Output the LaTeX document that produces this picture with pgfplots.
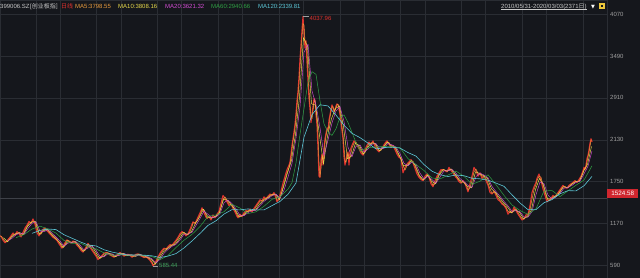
\documentclass[border=0pt]{standalone}
\usepackage{fontspec}
\setmainfont{Liberation Sans}
\newfontfamily\cjk{Noto Sans CJK SC}
\newfontfamily\sym{DejaVu Sans}
\usepackage{pgfplots}
\usepackage{pgfplotstable}
\pgfplotsset{compat=1.18}

\definecolor{bg}{HTML}{15171C}
\definecolor{gridc}{HTML}{2A2D33}
\definecolor{refline}{HTML}{3E4148}
\definecolor{axtext}{HTML}{A0A0A0}
\definecolor{kred}{HTML}{E0322E}
\definecolor{ma5c}{HTML}{E89A3C}
\definecolor{ma10c}{HTML}{E6D84A}
\definecolor{ma20c}{HTML}{D24CD2}
\definecolor{ma60c}{HTML}{2FA044}
\definecolor{ma120c}{HTML}{5CC6D6}
\definecolor{titletext}{HTML}{C8C8C8}
\definecolor{lowgreen}{HTML}{3FA05A}
\definecolor{boxred}{HTML}{D0262E}

\newcommand\tf{\fontsize{6bp}{7bp}\selectfont}

% daily close and MA5, x = trading day since 2010-05-31
\pgfplotstableread{
d c m5
0 1000 1000
6 985 993
12 940 963
20 905 923
28 930 918
36 965 948
44 1000 983
52 1040 1020
60 1010 1025
68 1060 1035
76 1030 1045
84 985 1008
92 1050 1018
100 1110 1080
108 1150 1130
116 1200 1175
124 1175 1188
132 1235 1205
140 1160 1198
148 1045 1103
156 1000 1023
164 1050 1025
172 1090 1070
180 1110 1100
188 1070 1090
196 1040 1055
204 1010 1025
212 980 995
220 960 970
228 935 948
236 890 913
244 850 870
248 830 840
256 880 855
264 930 905
268 945 938
276 920 933
284 900 910
292 930 915
300 910 920
308 870 890
316 840 855
324 800 820
332 775 788
340 820 798
348 870 845
352 895 883
360 840 868
368 800 820
376 760 780
384 720 740
392 670 695
400 700 685
408 730 715
416 760 745
424 770 765
432 760 765
440 735 748
448 720 728
456 705 713
464 725 715
472 750 738
480 770 760
488 745 758
496 720 733
504 735 728
512 745 740
520 730 738
528 705 718
536 725 715
544 745 735
552 750 748
560 730 740
568 715 723
576 700 708
584 710 705
592 690 700
600 660 675
608 620 640
612 585.44 605
620 620 605
628 680 650
632 710 695
640 760 735
648 800 780
656 830 815
664 815 823
672 850 833
680 880 865
688 870 875
696 905 888
704 940 923
712 980 960
720 1030 1005
728 1060 1045
736 1040 1050
744 1000 1020
752 1030 1015
760 1090 1060
768 1160 1125
772 1195 1178
780 1170 1183
788 1230 1200
796 1290 1260
804 1350 1320
808 1390 1370
816 1320 1355
824 1260 1290
828 1240 1250
836 1270 1255
844 1220 1245
852 1290 1255
860 1250 1270
868 1300 1275
876 1340 1320
884 1450 1395
892 1560 1505
900 1520 1540
908 1470 1495
916 1420 1445
924 1440 1430
932 1380 1410
940 1330 1355
948 1270 1300
952 1250 1260
960 1300 1275
968 1270 1285
976 1320 1295
984 1350 1335
992 1340 1345
1000 1370 1355
1008 1330 1350
1016 1380 1355
1024 1420 1400
1032 1460 1440
1040 1500 1480
1048 1480 1490
1056 1540 1510
1064 1510 1525
1072 1550 1530
1080 1580 1565
1088 1560 1570
1096 1600 1580
1104 1520 1560
1108 1470 1495
1116 1520 1495
1124 1620 1570
1132 1730 1675
1140 1800 1765
1148 1860 1830
1156 1900 1880
1160 1930 1915
1164 2000 1965
1168 2080 2040
1172 2150 2115
1176 2280 2215
1180 2420 2350
1184 2620 2520
1188 2860 2740
1192 3000 2930
1196 3200 3100
1200 3450 3325
1204 3650 3550
1208 3850 3750
1212 4037.96 3940
1216 3800 3915
1220 3600 3700
1224 3700 3650
1228 3400 3550
1232 3150 3275
1236 2900 3025
1240 2700 2800
1244 2450 2575
1248 2600 2525
1252 2750 2675
1256 2900 2825
1260 2850 2875
1264 2600 2725
1268 2400 2500
1272 2050 2225
1276 1800 1925
1280 1790 1795
1284 1950 1870
1288 2000 1975
1292 1900 1950
1296 2050 1975
1300 2150 2100
1304 2250 2200
1308 2350 2300
1312 2300 2325
1316 2500 2400
1320 2600 2550
1324 2700 2650
1328 2780 2740
1332 2720 2750
1336 2650 2685
1340 2700 2675
1344 2760 2730
1348 2800 2780
1352 2780 2790
1356 2700 2740
1360 2600 2650
1364 2450 2525
1368 2300 2375
1372 2150 2225
1376 1980 2065
1380 1900 1940
1384 1950 1925
1388 2000 1975
1392 2020 2010
1396 1900 1960
1400 2030 1965
1408 2080 2055
1416 2120 2100
1424 2100 2110
1428 2080 2090
1436 2050 2065
1444 2010 2030
1452 1990 2000
1460 2040 2015
1468 2080 2060
1476 2110 2095
1484 2090 2100
1492 2120 2105
1500 2070 2095
1508 2040 2055
1516 2020 2030
1524 2050 2035
1532 2070 2060
1540 2100 2085
1548 2120 2110
1556 2090 2105
1564 2060 2075
1572 2080 2070
1580 2040 2060
1588 2000 2020
1596 1970 1985
1604 1960 1965
1612 1830 1895
1620 1880 1855
1628 1910 1895
1636 1930 1920
1644 1950 1940
1652 1920 1935
1660 1870 1895
1668 1820 1845
1676 1790 1805
1684 1770 1780
1692 1760 1765
1700 1800 1780
1708 1820 1810
1716 1790 1805
1724 1720 1755
1732 1680 1700
1740 1760 1720
1748 1800 1780
1756 1830 1815
1764 1860 1845
1772 1860 1860
1780 1850 1855
1788 1840 1845
1796 1880 1860
1804 1850 1865
1812 1830 1840
1820 1800 1815
1828 1780 1790
1836 1750 1765
1844 1730 1740
1852 1760 1745
1860 1720 1740
1868 1650 1685
1872 1610 1630
1880 1720 1665
1888 1800 1760
1896 1880 1840
1904 1850 1865
1912 1800 1825
1920 1830 1815
1928 1780 1805
1936 1800 1790
1944 1760 1780
1952 1700 1730
1960 1600 1650
1968 1580 1590
1976 1620 1600
1984 1560 1590
1992 1500 1530
2000 1480 1490
2008 1440 1460
2016 1420 1430
2024 1380 1400
2032 1300 1340
2040 1340 1320
2048 1320 1330
2056 1400 1360
2064 1350 1375
2072 1300 1325
2080 1260 1280
2088 1220 1240
2096 1240 1230
2104 1290 1265
2112 1300 1295
2120 1420 1360
2128 1600 1510
2136 1680 1640
2144 1740 1710
2148 1780 1760
2156 1820 1800
2164 1760 1790
2172 1650 1705
2180 1560 1605
2188 1470 1515
2196 1500 1485
2204 1520 1510
2212 1560 1540
2220 1540 1550
2228 1580 1560
2236 1620 1600
2244 1660 1640
2252 1700 1680
2260 1670 1685
2268 1660 1665
2276 1700 1680
2284 1720 1710
2292 1740 1730
2300 1760 1750
2308 1740 1750
2316 1770 1755
2324 1800 1785
2332 1850 1825
2336 1880 1865
2340 1860 1870
2344 1900 1880
2348 1960 1930
2352 1990 1975
2356 2040 2015
2360 2100 2070
2364 2150 2125
2368 2110 2130
}\closetab

% MA10
\pgfplotstableread{
d v
14 975
30 918
46 983
62 1025
78 1045
94 1018
110 1130
126 1188
142 1198
158 1023
174 1070
190 1090
206 1025
222 970
238 913
254 840
270 918
286 910
302 920
318 855
334 788
350 845
366 868
382 780
398 695
414 715
430 765
446 748
462 713
478 738
494 758
510 728
526 738
542 715
558 748
574 723
590 705
606 675
622 610
638 695
654 780
670 823
686 865
702 888
718 960
734 1045
750 1020
766 1060
782 1175
798 1260
814 1370
830 1273
846 1245
862 1270
878 1320
894 1505
910 1495
926 1430
942 1355
958 1260
974 1285
990 1335
1006 1355
1022 1355
1038 1440
1054 1490
1070 1525
1086 1565
1102 1580
1118 1503
1134 1675
1150 1830
1166 1943
1182 2233
1198 2920
1214 3745
1230 3625
1246 2800
1262 2775
1278 2213
1294 1910
1310 2200
1326 2525
1342 2713
1358 2760
1374 2375
1390 1958
1406 1983
1422 2100
1438 2077
1454 2000
1470 2060
1486 2100
1502 2095
1518 2030
1534 2060
1550 2110
1566 2075
1582 2060
1598 1985
1614 1895
1630 1895
1646 1940
1662 1895
1678 1805
1694 1765
1710 1810
1726 1755
1742 1720
1758 1815
1774 1860
1790 1845
1806 1865
1822 1815
1838 1765
1854 1745
1870 1685
1886 1665
1902 1840
1918 1825
1934 1805
1950 1780
1966 1650
1982 1600
1998 1530
2014 1460
2030 1400
2046 1320
2062 1360
2078 1325
2094 1240
2110 1265
2126 1360
2142 1640
2158 1780
2174 1705
2190 1515
2206 1510
2222 1550
2238 1600
2254 1680
2270 1665
2286 1710
2302 1750
2318 1755
2334 1843
2350 1907
2366 2070
}\matentab

% MA20
\pgfplotstableread{
d v
32 932
48 967
64 1015
80 1040
96 1025
112 1103
128 1174
144 1196
160 1067
176 1059
192 1085
208 1042
224 984
240 928
256 858
272 899
288 912
304 918
320 871
336 805
352 831
368 862
384 802
400 716
416 710
432 753
448 752
464 722
480 732
496 754
512 736
528 736
544 721
560 740
576 729
592 710
608 682
624 627
640 674
656 759
672 812
688 855
704 882
720 942
736 1024
752 1026
768 1050
784 1146
800 1239
816 1343
832 1298
848 1252
864 1264
880 1308
896 1459
912 1497
928 1447
944 1374
960 1284
976 1279
992 1322
1008 1350
1024 1355
1040 1419
1056 1478
1072 1517
1088 1555
1104 1576
1120 1522
1136 1632
1152 1792
1168 1915
1184 2161
1200 2748
1216 3539
1232 3655
1248 3006
1264 2781
1280 2354
1296 1986
1312 2128
1328 2444
1344 2666
1360 2748
1376 2471
1392 2063
1408 1977
1424 2071
1440 2083
1456 2019
1472 2045
1488 2090
1504 2096
1520 2047
1536 2053
1552 2098
1568 2084
1584 2064
1600 2004
1616 1917
1632 1895
1648 1929
1664 1906
1680 1828
1696 1775
1712 1799
1728 1769
1744 1729
1760 1791
1776 1849
1792 1849
1808 1860
1824 1827
1840 1778
1856 1750
1872 1700
1888 1670
1904 1796
1920 1829
1936 1810
1952 1786
1968 1683
1984 1613
2000 1548
2016 1478
2032 1415
2048 1340
2064 1350
2080 1334
2096 1261
2112 1259
2128 1336
2144 1570
2160 1745
2176 1724
2192 1562
2208 1512
2224 1541
2240 1588
2256 1660
2272 1669
2288 1699
2304 1741
2320 1754
2336 1821
2352 1891
2368 2030
}\matwentytab

% MA60
\pgfplotstableread{
d v
64 975
96 1018
128 1095
160 1135
192 1095
224 1039
256 937
288 895
320 901
352 852
384 820
416 765
448 731
480 741
512 734
544 735
576 731
608 713
640 671
672 727
704 839
736 940
768 1021
800 1129
832 1270
864 1290
896 1335
928 1438
960 1385
992 1309
1024 1333
1056 1410
1088 1505
1120 1543
1152 1647
1168 1738
1184 1920
1200 2232
1216 2710
1232 3131
1248 3273
1264 3236
1280 2853
1296 2425
1312 2275
1328 2212
1344 2337
1360 2550
1376 2593
1392 2452
1408 2269
1424 2104
1440 2030
1472 2059
1504 2064
1536 2071
1568 2069
1600 2058
1632 1959
1664 1906
1696 1851
1728 1784
1760 1775
1792 1810
1824 1846
1856 1798
1888 1715
1920 1754
1952 1813
1984 1709
2016 1560
2048 1428
2080 1351
2112 1298
2144 1376
2176 1621
2208 1628
2240 1544
2272 1624
2304 1701
2336 1765
2368 1894
}\masixtytab

% MA120
\pgfplotstableread{
d v
128 1035
160 1076
192 1095
224 1087
256 1016
288 967
320 919
352 874
384 861
416 808
448 776
480 753
512 733
544 738
576 733
608 724
640 701
672 720
704 755
736 833
768 930
800 1034
832 1145
864 1209
896 1302
928 1364
960 1360
992 1373
1024 1359
1056 1359
1088 1419
1120 1477
1152 1576
1184 1732
1216 2179
1248 2596
1280 2782
1312 2760
1344 2590
1376 2400
1408 2250
1440 2170
1472 2100
1504 2047
1536 2060
1568 2062
1600 2055
1632 2014
1664 1982
1696 1905
1728 1845
1760 1813
1792 1797
1824 1811
1856 1804
1888 1781
1920 1776
1952 1764
1984 1731
2016 1686
2048 1568
2080 1456
2112 1363
2144 1364
2176 1459
2208 1502
2240 1583
2272 1626
2304 1623
2336 1694
2368 1798
}\maonetwentytab

\begin{document}
\begin{tikzpicture}
\useasboundingbox (0,0) rectangle (640bp,278bp);
\fill[bg] (0,0) rectangle (640bp,278bp);
\begin{axis}[
  at={(0,0)}, anchor=south west,
  scale only axis, width=607bp, height=278bp,
  xmin=0, xmax=2428,
  ymin=417, ymax=4265,
  % price scale that is linear between the labelled levels
  y coord trafo/.code={\pgfmathparse{(#1<1750)*((#1-590)/580) + (#1>=1750)*(#1<2130)*(2+(#1-1750)/380) + (#1>=2130)*(#1<2910)*(3+(#1-2130)/780) + (#1>=2910)*(4+(#1-2910)/580)}},
  ytick={590,1170,1750,2130,2910,3490,4070},
  yticklabels={590,1170,1750,2130,2910,3490,4070},
  yticklabel pos=right,
  yticklabel style={anchor=west, inner sep=0pt, xshift=3bp, font=\tf, text=axtext},
  xtick={143,240,386,483,629,726,872,970,1116,1213,1359,1456,1602,1699,1845,1942,2088,2186,2332},
  xmajorticks=false,
  grid=major,
  major grid style={gridc, line width=0.5pt},
  tick style={draw=none},
  axis line style={gridc, line width=0.6pt},
  clip=true,
]
% reference price level
\addplot[refline, line width=0.5pt] coordinates {(0,1524.58) (2428,1524.58)};
\addplot[kred, line width=1.1pt, line join=round] table[x=d, y=c] {\closetab};
\addplot[ma5c, line width=0.5pt, line join=round] table[x=d, y=m5] {\closetab};
\addplot[ma10c, line width=0.5pt, line join=round] table[x=d, y=v] {\matentab};
\addplot[ma20c, line width=0.45pt, line join=round] table[x=d, y=v] {\matwentytab};
\addplot[ma60c, line width=0.5pt, line join=round] table[x=d, y=v] {\masixtytab};
\addplot[ma120c, line width=0.6pt, line join=round] table[x=d, y=v] {\maonetwentytab};
% high and low markers
\draw[axtext, line width=0.4pt] (axis cs:1212,4037.96) -- (axis cs:1234,4037.96);
\node[anchor=north west, inner sep=0pt, font=\tf, text=kred] at (axis cs:1238,4037.96) {4037.96};
\draw[axtext, line width=0.4pt] (axis cs:612,585.44) -- (axis cs:632,585.44);
\node[anchor=west, inner sep=0pt, font=\tf, text=lowgreen] at (axis cs:636,585.44) {585.44};
\coordinate (lastp) at (axis cs:2428,1524.58);
\end{axis}
% price tag on the right scale
\node[anchor=south west, fill=boxred, text=white, inner sep=0pt, minimum width=31bp, minimum height=9bp, font=\fontsize{6.3bp}{7bp}\selectfont] at (lastp) {1524.58};
% header line
\node[anchor=base west, inner sep=0pt, font=\tf, text=titletext] at (0bp,269.7bp) {399006.SZ};
\node[anchor=base west, inner sep=0pt, font=\tf, text=titletext] at (30bp,269.7bp) {[\cjk 创业板指]};
\node[anchor=base west, inner sep=0pt, font=\tf, text=kred] at (61bp,269.7bp) {\cjk 日线};
\node[anchor=base west, inner sep=0pt, font=\tf, text=ma5c] at (75bp,269.7bp) {MA5:3798.55};
\node[anchor=base west, inner sep=0pt, font=\tf, text=ma10c] at (118bp,269.7bp) {MA10:3808.16};
\node[anchor=base west, inner sep=0pt, font=\tf, text=ma20c] at (165bp,269.7bp) {MA20:3621.32};
\node[anchor=base west, inner sep=0pt, font=\tf, text=ma60c] at (211bp,269.7bp) {MA60:2940.66};
\node[anchor=base west, inner sep=0pt, font=\tf, text=ma120c] at (258bp,269.7bp) {MA120:2339.81};
\node[anchor=base west, inner sep=0pt, font=\tf, text=titletext] (rng) at (501bp,269.7bp) {2010/05/31-2020/03/03(2371\cjk 日\normalfont)};
\draw[titletext, line width=0.35pt] ([yshift=-1bp]rng.base west) -- ([yshift=-1bp]rng.base east);
\node[anchor=base west, inner sep=0pt, font=\fontsize{5bp}{6bp}\selectfont\sym, text=white] at (591bp,269.7bp) {▼};
\fill[ma10c!80!orange] (599bp,268.5bp) rectangle (605bp,274.5bp);
\fill[bg] (601bp,270.5bp) rectangle (603bp,272.5bp);
\end{tikzpicture}
\end{document}
